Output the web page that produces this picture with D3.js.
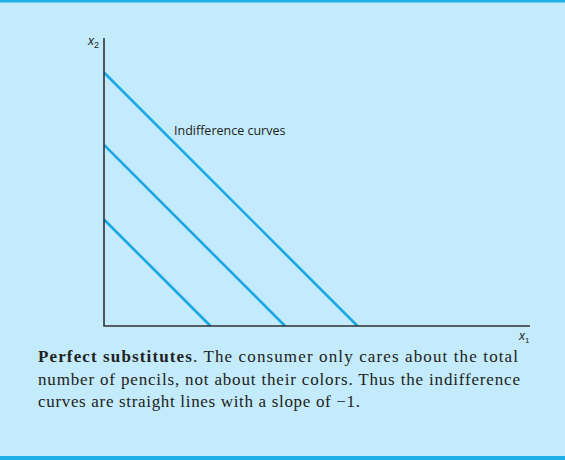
<!DOCTYPE html><html><head><meta charset="utf-8">
<script src="https://cdn.jsdelivr.net/npm/d3@7"></script>
<style>body{margin:0;background:#c3ebfb}</style></head><body>
<script>
const intercepts = [25, 42.5, 59.5];
const captionLines = [
  [{t:"Perfect substitutes",b:true},{t:".  The consumer only cares about the total"}],
  [{t:"number of pencils, not about their colors.  Thus the indifference"}],
  [{t:"curves are straight lines with a slope of \u22121."}]
];
const W=565,H=460;
const svg=d3.select("body").append("svg").attr("width",W).attr("height",H);
svg.append("rect").attr("width",W).attr("height",H).attr("fill","#c3ebfb");
svg.append("rect").attr("width",W).attr("height",2.5).attr("fill","#1eaee8");
svg.append("rect").attr("y",456).attr("width",W).attr("height",4).attr("fill","#1eaee8");
const x=d3.scaleLinear().domain([0,100]).range([104,530]);
const y=d3.scaleLinear().domain([0,288/4.26]).range([326,38]);
svg.selectAll("line.ic").data(intercepts).join("line").attr("class","ic")
 .attr("x1",x(0)).attr("y1",d=>y(d)).attr("x2",d=>x(d)).attr("y2",y(0))
 .attr("stroke","#1aa7e6").attr("stroke-width",2.6);
svg.append("path").attr("d",`M${x(0)},${y.range()[1]}V${y(0)}H${x.range()[1]}`)
 .attr("fill","none").attr("stroke","#333").attr("stroke-width",1.6);
const xl=svg.append("text").attr("x",88).attr("y",45).attr("font-family","Liberation Sans").attr("font-style","italic").attr("font-size",12).attr("fill","#222");
xl.append("tspan").text("x");xl.append("tspan").attr("font-size",9).attr("dy",3).attr("font-style","normal").text("2");
const x1=svg.append("text").attr("x",519).attr("y",340).attr("font-family","Liberation Sans").attr("font-style","italic").attr("font-size",12).attr("fill","#222");
x1.append("tspan").text("x");x1.append("tspan").attr("font-size",8).attr("dy",3).attr("font-style","normal").text("1");
svg.append("text").attr("x",174).attr("y",135).attr("font-family","Open Sans").attr("font-size",12.5).attr("fill","#222").text("Indifference curves");
const widths=[480,482,322];
captionLines.forEach((ln,i)=>{
 const t=svg.append("text").attr("x",38).attr("y",362+i*22.5).attr("font-family","Liberation Serif").attr("font-size",17).attr("fill","#222")
  .attr("textLength",widths[i]).attr("lengthAdjust","spacing");
 ln.forEach(s=>t.append("tspan").attr("font-weight",s.b?"bold":null).text(s.t));
});
</script></body></html>
